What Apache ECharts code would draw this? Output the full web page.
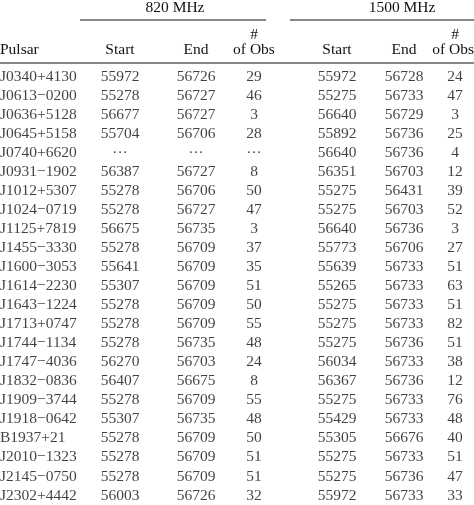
<!DOCTYPE html>
<html><head><meta charset="utf-8">
<script src="https://cdn.jsdelivr.net/npm/echarts@6/dist/echarts.min.js"></script>
<style>html,body{margin:0;padding:0;background:#fff}#c{width:474px;height:505px}</style>
</head><body><div id="c"></div>
<script>
const pulsars=["J0340+4130","J0613\u22120200","J0636+5128","J0645+5158","J0740+6620","J0931\u22121902","J1012+5307","J1024\u22120719","J1125+7819","J1455\u22123330","J1600\u22123053","J1614\u22122230","J1643\u22121224","J1713+0747","J1744\u22121134","J1747\u22124036","J1832\u22120836","J1909\u22123744","J1918\u22120642","B1937+21","J2010\u22121323","J2145\u22120750","J2302+4442"];
const d="\u00b7\u00b7\u00b7";
const start820=[55972,55278,56677,55704,d,56387,55278,55278,56675,55278,55641,55307,55278,55278,55278,56270,56407,55278,55307,55278,55278,55278,56003];
const end820=[56726,56727,56727,56706,d,56727,56706,56727,56735,56709,56709,56709,56709,56709,56735,56703,56675,56709,56735,56709,56709,56709,56726];
const obs820=[29,46,3,28,d,8,50,47,3,37,35,51,50,55,48,24,8,55,48,50,51,51,32];
const start1500=[55972,55275,56640,55892,56640,56351,55275,55275,56640,55773,55639,55265,55275,55275,55275,56034,56367,55275,55429,55305,55275,55275,55972];
const end1500=[56728,56733,56729,56736,56736,56703,56431,56703,56736,56706,56733,56733,56733,56733,56736,56733,56736,56733,56733,56676,56733,56736,56733];
const obs1500=[24,47,3,25,4,12,39,52,3,27,51,63,51,82,51,38,12,76,48,40,51,47,33];
const columns=[start820,end820,obs820,start1500,end1500,obs1500];
const colX=[120,196,254,337,404,455];
const font='"Liberation Serif","DejaVu Serif",serif';
const txt={fontFamily:font,fontSize:15.5,color:'#111'};
const series=[{type:'scatter',symbolSize:0,data:pulsars.map((p,i)=>[0,p,p]),
  label:{show:true,position:'inside',align:'left',formatter:q=>q.value[2],...txt}}];
columns.forEach((col,c)=>series.push({type:'scatter',symbolSize:0,data:col.map((v,i)=>[colX[c],pulsars[i],String(v)]),
  label:{show:true,position:'inside',align:'center',formatter:q=>q.value[2],...txt}}));
const T=(x,y,t,a)=>({type:'text',x,y,style:{text:t,fontFamily:font,fontSize:15.5,fill:'#111',align:a||'center',verticalAlign:'middle'}});
const L=(x1,x2,y)=>({type:'line',shape:{x1,y1:y,x2,y2:y},style:{stroke:'#111',lineWidth:1}});
const chart=echarts.init(document.getElementById('c'));
chart.setOption({animation:false,
  grid:{left:0,right:0,top:67,bottom:0},
  xAxis:{type:'value',min:0,max:474,show:false},
  yAxis:{type:'category',data:pulsars,inverse:true,show:false},
  series,
  graphic:[T(175,8,'820 MHz'),T(402,8,'1500 MHz'),L(80,266,20),L(290,474,20),
    T(0,50,'Pulsar','left'),T(120,50,'Start'),T(196,50,'End'),T(254,35,'#'),T(254,50,'of Obs'),
    T(337,50,'Start'),T(404,50,'End'),T(455,35,'#'),T(474,50,'of Obs','right'),L(0,474,63)]
});
</script></body></html>
